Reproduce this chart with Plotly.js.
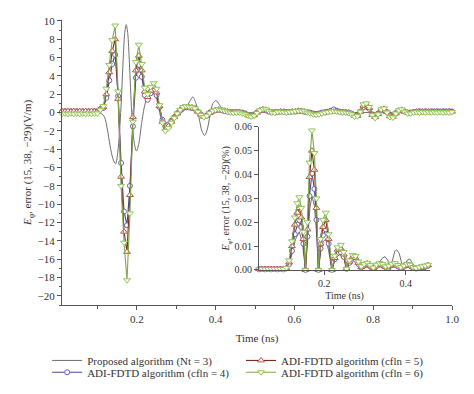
<!DOCTYPE html>
<html><head><meta charset="utf-8">
<script src="https://cdn.plot.ly/plotly-3.0.1.min.js"></script>
<style>html,body{margin:0;padding:0;background:#fff}</style>
</head><body><div id="chart" style="width:474px;height:394px"></div>
<script>
// Main plot: ADI samples on a regular time grid (ns)
const T0 = 0.01, DT = 0.0075;
const cfln6 = [
-0.15,-0.1,-0.15,-0.1,-0.15,-0.1,-0.15,-0.1,-0.15,-0.1,
-0.15,-0.1,-0.1,0.3,0.7,2.6,5.2,7.9,9.5,2.3,
-8.0,-14.2,-18.3,-11.0,-1.0,5.5,7.4,5.3,2.7,2.0,
2.8,3.2,2.6,0.8,-1.1,-2.0,-1.7,-1.1,-0.6,-0.1,
0.3,0.6,0.7,0.65,0.6,0.45,0.1,-0.25,-0.5,-0.35,
-0.05,0.2,0.3,0.35,0.3,0.2,0.1,0.0,-0.05,0.0,
0.0,-0.1,-0.2,-0.35,-0.45,-0.35,-0.05,0.25,0.4,0.35,
0.15,0.0,-0.05,0.05,0.1,0.05,0.0,0.05,0.1,0.15,
0.2,0.2,0.15,0.0,-0.1,-0.2,-0.25,-0.2,-0.1,0.0,
0.05,0.1,0.15,0.1,0.05,0.0,0.0,-0.05,-0.2,-0.45,
-0.4,0.1,0.9,1.0,0.6,-0.3,-0.6,-0.2,0.35,0.45,
0.0,-0.5,-0.55,-0.1,0.25,0.35,0.1,-0.1,-0.1,0.0,
0.05,0.0,0.05,0.0,0.05,0.0,0.05,0.0,0.05,0.0,
0.05,0.0,0.05];
const cfln5 = [
0.15,0.1,0.15,0.1,0.15,0.1,0.15,0.1,0.15,0.1,
0.15,0.1,0.15,0.4,0.6,2.0,4.4,6.7,8.0,1.5,
-7.0,-13.0,-15.2,-9.0,-0.5,4.6,6.2,4.6,2.3,1.7,
2.4,2.8,2.2,0.7,-1.0,-1.8,-1.5,-1.0,-0.5,-0.1,
0.3,0.55,0.6,0.6,0.55,0.4,0.1,-0.2,-0.45,-0.3,
-0.05,0.15,0.25,0.3,0.25,0.2,0.1,0.05,0.0,0.05,
0.05,-0.05,-0.15,-0.3,-0.4,-0.3,0.0,0.2,0.35,0.3,
0.15,0.05,0.0,0.05,0.1,0.05,0.05,0.05,0.1,0.15,
0.2,0.15,0.1,0.0,-0.05,-0.15,-0.2,-0.15,-0.05,0.0,
0.05,0.1,0.1,0.1,0.05,0.05,0.0,0.0,-0.15,-0.35,
-0.35,0.1,0.75,0.85,0.5,-0.25,-0.5,-0.15,0.3,0.4,
0.05,-0.4,-0.45,-0.1,0.2,0.3,0.1,-0.05,-0.05,0.05,
0.1,0.05,0.1,0.05,0.1,0.05,0.1,0.05,0.1,0.05,
0.1,0.05,0.1];
const cfln4 = [
0.1,0.15,0.1,0.15,0.1,0.15,0.1,0.15,0.1,0.15,
0.1,0.15,0.15,0.4,0.5,1.6,3.5,5.3,6.3,1.8,
-5.5,-10.8,-12.3,-8.0,-1.5,3.8,5.2,3.9,1.9,1.4,
2.1,2.4,1.9,0.6,-0.8,-1.5,-1.3,-0.9,-0.5,-0.1,
0.2,0.5,0.55,0.55,0.5,0.4,0.1,-0.2,-0.4,-0.3,
0.0,0.15,0.25,0.3,0.25,0.15,0.1,0.05,0.05,0.05,
0.05,0.0,-0.1,-0.25,-0.35,-0.25,0.0,0.2,0.3,0.25,
0.1,0.05,0.05,0.05,0.1,0.1,0.05,0.05,0.1,0.1,
0.15,0.15,0.1,0.05,0.0,-0.1,-0.15,-0.1,0.0,0.05,
0.1,0.2,0.35,0.2,0.1,0.05,0.05,0.0,-0.1,-0.3,
-0.3,0.1,0.6,0.7,0.4,-0.2,-0.4,-0.1,0.25,0.35,
0.05,-0.35,-0.4,-0.05,0.2,0.25,0.1,0.0,0.0,0.05,
0.1,0.15,0.1,0.15,0.1,0.15,0.1,0.15,0.1,0.15,
0.1,0.15,0.1];
const propT = [0.01,0.05,0.10,0.11,0.118,0.125,0.132,0.139,0.146,0.152,0.159,0.165,0.169,0.173,0.177,0.181,0.187,0.193,0.199,0.205,0.212,0.22,0.228,0.236,0.245,0.252,0.26,0.267,0.274,0.282,0.29,0.3,0.31,0.318,0.326,0.334,0.342,0.35,0.358,0.365,0.372,0.379,0.386,0.393,0.401,0.409,0.416,0.424,0.44,0.5,0.6,0.7,0.8,0.9,1.0];
const propV = [0,0,0,-0.1,-0.5,-1.8,-3.6,-5.0,-5.6,-4.2,0,5.5,8.6,9.6,8.6,5.5,0,-3.2,-4.2,-3.4,-1.2,0.8,1.8,2.2,2.0,1.2,-0.4,-1.6,-2.1,-1.6,-0.8,0,0.4,0.5,0.6,1.2,1.7,1.0,-0.6,-2.0,-2.5,-1.8,-0.2,1.0,1.3,0.9,0.3,0,-0.1,0,0,0,0,0,0];

// Inset: error (%)
const insetT = [0.04,0.0475,0.055,0.0625,0.07,0.0775,0.085,0.0925,0.1,0.107,0.114,0.121,0.128,0.134,0.139,0.144,0.149,0.154,0.159,0.164,0.17,0.176,0.181,0.186,0.191,0.197,0.204,0.211,0.219,0.226,0.233,0.241,0.248,0.255,0.262,0.27,0.277,0.284,0.291,0.298,0.3055,0.313,0.3205,0.328,0.3355,0.343,0.3505,0.358,0.3655,0.373,0.3805,0.388,0.3955,0.403,0.4105,0.418,0.4255,0.433,0.4405,0.448,0.455];
const insetC6 = [0.0003,0.0004,0.0003,0.0004,0.0003,0.0004,0.0003,0.0004,0.0003,
0.0008,0.004,0.012,0.022,0.028,0.0305,0.026,0.016,0.0,
0.020,0.045,0.0585,0.049,0.030,0.0,
0.013,0.021,0.024,0.015,0.0,
0.006,0.0095,0.0105,0.0075,0.0005,
0.004,0.0063,0.0058,0.0035,0.0015,0.0025,
0.003,0.002,0.001,0.0022,0.0028,0.0025,0.0015,0.0018,0.0026,0.0028,
0.002,0.0012,0.0018,0.0025,0.0022,0.0012,0.0008,0.0012,0.0015,0.0018,
0.0022];
const insetC5 = [0.0004,0.0003,0.0004,0.0003,0.0004,0.0003,0.0004,0.0003,0.0004,
0.0007,0.0032,0.010,0.019,0.024,0.026,0.022,0.013,0.0,
0.017,0.039,0.050,0.042,0.026,0.0,
0.011,0.018,0.021,0.013,0.0,
0.005,0.0085,0.009,0.0065,0.0005,
0.0035,0.0055,0.005,0.003,0.0012,0.002,
0.0027,0.0018,0.0009,0.002,0.0025,0.0022,0.0013,0.0016,0.0023,0.0025,
0.0018,0.001,0.0016,0.0022,0.002,0.0011,0.0007,0.001,0.0013,0.0016,
0.002];
const insetC4 = [0.0003,0.0004,0.0003,0.0004,0.0003,0.0004,0.0003,0.0004,0.0003,
0.0006,0.0025,0.008,0.015,0.019,0.021,0.018,0.011,0.0,
0.014,0.031,0.0405,0.034,0.021,0.0,
0.009,0.0145,0.017,0.011,0.0,
0.0045,0.007,0.0075,0.0055,0.0005,
0.003,0.0048,0.0043,0.0025,0.001,0.0018,
0.0023,0.0015,0.0008,0.0017,0.0022,0.002,0.0012,0.0014,0.002,0.0022,
0.0016,0.0009,0.0014,0.002,0.0018,0.001,0.0006,0.0009,0.0011,0.0014,
0.0018];
const insetPropT = [0.04,0.1,0.11,0.12,0.13,0.139,0.147,0.154,0.16,0.165,0.17,0.176,0.181,0.186,0.192,0.198,0.204,0.211,0.219,0.226,0.233,0.241,0.248,0.255,0.262,0.27,0.277,0.284,0.292,0.3,0.31,0.32,0.328,0.335,0.342,0.349,0.356,0.362,0.368,0.373,0.378,0.384,0.39,0.395,0.4,0.405,0.41,0.416,0.422,0.43,0.44,0.45];
const insetPropV = [0,0,0.001,0.006,0.013,0.016,0.011,0,0.014,0.026,0.031,0.027,0.016,0,0.008,0.012,0.013,0.008,0,0.004,0.006,0.007,0.005,0,0.003,0.0045,0.004,0.002,0,0.0015,0.002,0.001,0,0.003,0.0048,0.0056,0.004,0,0.005,0.0078,0.0084,0.007,0.003,0,0.003,0.0043,0.0046,0.003,0,0.0008,0.0004,0.0002];

const names = ['Proposed algorithm (Nt = 3)','ADI-FDTD algorithm (cfln = 4)','ADI-FDTD algorithm (cfln = 5)','ADI-FDTD algorithm (cfln = 6)'];

const mainT = cfln6.map((_, i) => +(T0 + i * DT).toFixed(4));

const serif = 'Liberation Serif, Times New Roman, serif';
const grayStyle = {color:'#6e6e6e', width:1};
const s4 = {line:{color:'#4e3f95', width:1.1}, marker:{symbol:'circle', size:5, color:'#ffffff', line:{color:'#6c60b8', width:1}}};
const s5 = {line:{color:'#7e2a1c', width:1.1}, marker:{symbol:'triangle-up', size:6, color:'#ffffff', line:{color:'#c4533f', width:1}}};
const s6 = {line:{color:'#7da84e', width:1.1}, marker:{symbol:'triangle-down', size:6, color:'#fbfff0', line:{color:'#93c45c', width:1}}};

const traces = [
  {x: propT, y: propV, name: names[0], mode:'lines', line:{...grayStyle, shape:'spline', smoothing:0.8}, legend:'legend', xaxis:'x', yaxis:'y'},
  {x: mainT, y: cfln4, name: names[1], mode:'lines+markers', ...s4, legend:'legend3', cliponaxis:false, xaxis:'x', yaxis:'y'},
  {x: mainT, y: cfln5, name: names[2], mode:'lines+markers', ...s5, legend:'legend2', cliponaxis:false, xaxis:'x', yaxis:'y'},
  {x: mainT, y: cfln6, name: names[3], mode:'lines+markers', ...s6, legend:'legend4', cliponaxis:false, xaxis:'x', yaxis:'y'},
  {x: insetPropT, y: insetPropV, name: names[0], mode:'lines', line:grayStyle, showlegend:false, xaxis:'x2', yaxis:'y2'},
  {x: insetT, y: insetC4, name: names[1], mode:'lines+markers', ...s4, showlegend:false, cliponaxis:false, xaxis:'x2', yaxis:'y2'},
  {x: insetT, y: insetC5, name: names[2], mode:'lines+markers', ...s5, showlegend:false, cliponaxis:false, xaxis:'x2', yaxis:'y2'},
  {x: insetT, y: insetC6, name: names[3], mode:'lines+markers', ...s6, showlegend:false, cliponaxis:false, xaxis:'x2', yaxis:'y2'}
];

const ax = {showgrid:false, zeroline:false, showline:true, linecolor:'#555', linewidth:1, automargin:false,
  ticks:'outside', ticklen:4, tickcolor:'#555', tickfont:{family:serif, size:11, color:'#333'}};
const minorStyle = {ticks:'outside', ticklen:2.5, tickcolor:'#555'};
const legBase = {xanchor:'left', yanchor:'top', yref:'container', bgcolor:'rgba(0,0,0,0)',
  font:{family:serif, size:11, color:'#333'}, tracegroupgap:0};

const layout = {
  width:474, height:394,
  margin:{l:62, r:22, t:20, b:89},
  paper_bgcolor:'#fff', plot_bgcolor:'#fff',
  font:{family:serif, size:11, color:'#333'},
  xaxis:{...ax, domain:[0,1], anchor:'y', range:[0.01,1.0], tick0:0, dtick:0.2, tickformat:'.1f',
    minor:{...minorStyle, dtick:0.1},
    title:{text:'Time (ns)', font:{family:serif, size:11, color:'#333'}, standoff:10}},
  yaxis:{...ax, domain:[0,1], anchor:'x', range:[-21,10.1], tick0:0, dtick:2,
    minor:{...minorStyle, dtick:1},
    title:{text:'<i>E</i><sub>φ</sub>, error (15, 38, −29)(V/m)', font:{family:serif, size:11, color:'#333'}, standoff:3}},
  xaxis2:{...ax, domain:[0.505,0.944], anchor:'y2', range:[0.04,0.46], tick0:0, dtick:0.2, tickformat:'.1f',
    tickfont:{family:serif, size:10, color:'#333'},
    title:{text:'Time (ns)', font:{family:serif, size:10, color:'#333'}, standoff:4}},
  yaxis2:{...ax, domain:[0.123,0.625], anchor:'x2', range:[0,0.06], tick0:0, dtick:0.01, tickformat:'.2f',
    tickfont:{family:serif, size:10, color:'#333'},
    title:{text:'<i>E</i><sub>φ</sub>, error (15, 38, −29)(%)', font:{family:serif, size:10, color:'#333'}, standoff:2}},
  legend:{...legBase, x:-0.038, y:0.122},
  legend3:{...legBase, x:-0.038, y:0.092},
  legend2:{...legBase, x:0.459, y:0.122},
  legend4:{...legBase, x:0.459, y:0.092}
};

Plotly.newPlot('chart', traces, layout, {displayModeBar:false, staticPlot:true});
</script>
</body></html>
